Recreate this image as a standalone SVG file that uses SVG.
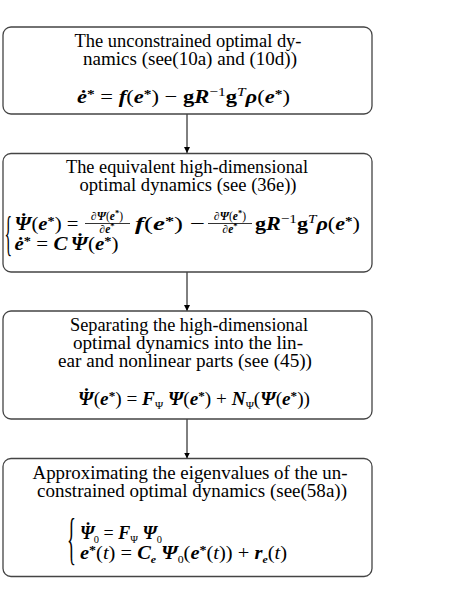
<svg xmlns="http://www.w3.org/2000/svg" width="474" height="616" viewBox="0 0 474 616">
<style>
.box{fill:#fff;stroke:#444;stroke-width:1.3}
.t{font-family:"Liberation Serif","Times New Roman",serif;font-size:18px;fill:#000;text-anchor:middle}
.m{font-family:"Liberation Serif","Times New Roman",serif;font-size:19px;fill:#000}
.f{font-family:"Liberation Serif","Times New Roman",serif;font-size:11.5px;fill:#000;text-anchor:middle}
.bi{font-weight:bold;font-style:italic}
.b{font-weight:bold}
.i{font-style:italic}
.sup{font-size:13px}
.sub{font-size:11px}
.fs{font-size:8.5px;font-weight:bold}
.br{font-family:"Liberation Serif","Times New Roman",serif;fill:#000}
.conn{stroke:#000;stroke-width:1;fill:none}
</style>
<defs>
<marker id="ah" markerUnits="userSpaceOnUse" markerWidth="6" markerHeight="7" refX="6" refY="3" orient="auto">
<path d="M0,0 L6,3 L0,6 z" fill="#000"/>
</marker>
</defs>
<rect width="474" height="616" fill="#fff"/>
<g id="connectors">
<line class="conn" x1="187" y1="114" x2="187" y2="153" marker-end="url(#ah)"/>
<line class="conn" x1="187" y1="272" x2="187" y2="311" marker-end="url(#ah)"/>
<line class="conn" x1="187" y1="419" x2="187" y2="458.5" marker-end="url(#ah)"/>
</g>
<g id="node1">
<rect class="box" x="3" y="27" width="369" height="87" rx="8"/>
<text class="t" x="188" y="47" textLength="227" lengthAdjust="spacingAndGlyphs">The unconstrained optimal dy-</text>
<text class="t" x="190" y="65" textLength="214" lengthAdjust="spacingAndGlyphs">namics (see(10a) and (10d))</text>
<text class="m" x="77" y="103" textLength="213" lengthAdjust="spacingAndGlyphs"><tspan class="bi">ė</tspan><tspan class="sup b" dy="-5">*</tspan><tspan dy="5"> = </tspan><tspan class="bi">f</tspan>(<tspan class="bi">e</tspan><tspan class="sup b" dy="-5">*</tspan><tspan dy="5">) − </tspan><tspan class="b">g</tspan><tspan class="bi">R</tspan><tspan class="sup" dy="-7">−1</tspan><tspan class="b" dy="7">g</tspan><tspan class="sup i" dy="-7">T</tspan><tspan class="bi" dy="7">ρ</tspan>(<tspan class="bi">e</tspan><tspan class="sup b" dy="-5">*</tspan><tspan dy="5">)</tspan></text>
</g>
<g id="node2">
<rect class="box" x="3" y="153.5" width="369" height="118.5" rx="8"/>
<text class="t" x="187" y="173" textLength="242" lengthAdjust="spacingAndGlyphs">The equivalent high-dimensional</text>
<text class="t" x="188" y="191" textLength="217" lengthAdjust="spacingAndGlyphs">optimal dynamics (see (36e))</text>
<text class="br" font-size="48" transform="translate(4.5,250) scale(0.33,1)">{</text>
<text class="m" x="14.5" y="230" textLength="64" lengthAdjust="spacingAndGlyphs"><tspan class="bi">Ψ</tspan><tspan class="b" dx="-10" dy="-4">˙</tspan><tspan dx="4" dy="4">(</tspan><tspan class="bi">e</tspan><tspan class="sup b" dy="-5">*</tspan><tspan dy="5">) =</tspan></text>
<text class="f" x="107" y="220"><tspan class="i">∂</tspan><tspan class="bi">Ψ</tspan>(<tspan class="bi">e</tspan><tspan class="fs" dy="-4">*</tspan><tspan dy="4">)</tspan></text>
<line x1="85" y1="223.5" x2="130" y2="223.5" stroke="#000" stroke-width="0.8"/>
<text class="f" x="107" y="232.5"><tspan class="i">∂</tspan><tspan class="bi">e</tspan><tspan class="fs" dy="-4">*</tspan></text>
<text class="m" x="135" y="230" textLength="70" lengthAdjust="spacingAndGlyphs"><tspan class="bi">f</tspan>(<tspan class="bi">e</tspan><tspan class="sup b" dy="-5">*</tspan><tspan dy="5">) −</tspan></text>
<text class="f" x="230" y="220"><tspan class="i">∂</tspan><tspan class="bi">Ψ</tspan>(<tspan class="bi">e</tspan><tspan class="fs" dy="-4">*</tspan><tspan dy="4">)</tspan></text>
<line x1="208" y1="223.5" x2="252" y2="223.5" stroke="#000" stroke-width="0.8"/>
<text class="f" x="230" y="232.5"><tspan class="i">∂</tspan><tspan class="bi">e</tspan><tspan class="fs" dy="-4">*</tspan></text>
<text class="m" x="255" y="230" textLength="105" lengthAdjust="spacingAndGlyphs"><tspan class="b">g</tspan><tspan class="bi">R</tspan><tspan class="sup" dy="-7">−1</tspan><tspan class="b" dy="7">g</tspan><tspan class="sup i" dy="-7">T</tspan><tspan class="bi" dy="7">ρ</tspan>(<tspan class="bi">e</tspan><tspan class="sup b" dy="-5">*</tspan><tspan dy="5">)</tspan></text>
<text class="m" x="14.5" y="250" textLength="104" lengthAdjust="spacingAndGlyphs"><tspan class="bi">ė</tspan><tspan class="sup b" dy="-5">*</tspan><tspan dy="5"> = </tspan><tspan class="bi">C</tspan><tspan dx="3" class="bi">Ψ</tspan><tspan class="b" dx="-10" dy="-4">˙</tspan><tspan dx="4" dy="4">(</tspan><tspan class="bi">e</tspan><tspan class="sup b" dy="-5">*</tspan><tspan dy="5">)</tspan></text>
</g>
<g id="node3">
<rect class="box" x="3" y="311" width="369" height="108" rx="8"/>
<text class="t" x="189" y="331" textLength="238" lengthAdjust="spacingAndGlyphs">Separating the high-dimensional</text>
<text class="t" x="188" y="349" textLength="230" lengthAdjust="spacingAndGlyphs">optimal dynamics into the lin-</text>
<text class="t" x="185" y="367" textLength="254" lengthAdjust="spacingAndGlyphs">ear and nonlinear parts (see (45))</text>
<text class="m" x="78" y="405" textLength="232" lengthAdjust="spacingAndGlyphs"><tspan class="bi">Ψ</tspan><tspan class="b" dx="-10" dy="-4">˙</tspan><tspan dx="4" dy="4">(</tspan><tspan class="bi">e</tspan><tspan class="sup b" dy="-5">*</tspan><tspan dy="5">) = </tspan><tspan class="bi">F</tspan><tspan class="sub" dy="4">Ψ</tspan><tspan dy="-4"> </tspan><tspan class="bi">Ψ</tspan>(<tspan class="bi">e</tspan><tspan class="sup b" dy="-5">*</tspan><tspan dy="5">) + </tspan><tspan class="bi">N</tspan><tspan class="sub" dy="4">Ψ</tspan><tspan dy="-4">(</tspan><tspan class="bi">Ψ</tspan>(<tspan class="bi">e</tspan><tspan class="sup b" dy="-5">*</tspan><tspan dy="5">))</tspan></text>
</g>
<g id="node4">
<rect class="box" x="3" y="458.5" width="369" height="118" rx="8"/>
<text class="t" x="190" y="479" textLength="315" lengthAdjust="spacingAndGlyphs">Approximating the eigenvalues of the un-</text>
<text class="t" x="192" y="497" textLength="310" lengthAdjust="spacingAndGlyphs">constrained optimal dynamics (see(58a))</text>
<text class="br" font-size="56" transform="translate(67,558) scale(0.33,1)">{</text>
<text class="m" x="80" y="539" textLength="82" lengthAdjust="spacingAndGlyphs"><tspan class="bi">Ψ</tspan><tspan class="b" dx="-10" dy="-4">˙</tspan><tspan class="sub" dx="3" dy="8">0</tspan><tspan dy="-4"> = </tspan><tspan class="bi">F</tspan><tspan class="sub" dy="4">Ψ</tspan><tspan dy="-4"> </tspan><tspan class="bi">Ψ</tspan><tspan class="sub" dy="4">0</tspan></text>
<text class="m" x="80" y="559" textLength="207" lengthAdjust="spacingAndGlyphs"><tspan class="bi">e</tspan><tspan class="sup b" dy="-5">*</tspan><tspan dy="5">(</tspan><tspan class="i">t</tspan>) = <tspan class="bi">C</tspan><tspan class="sub bi" dy="4">e</tspan><tspan dy="-4"> </tspan><tspan class="bi">Ψ</tspan><tspan class="sub" dy="4">0</tspan><tspan dy="-4">(</tspan><tspan class="bi">e</tspan><tspan class="sup b" dy="-5">*</tspan><tspan dy="5">(</tspan><tspan class="i">t</tspan>)) + <tspan class="bi">r</tspan><tspan class="sub bi" dy="4">e</tspan><tspan dy="-4">(</tspan><tspan class="i">t</tspan>)</text>
</g>
</svg>
